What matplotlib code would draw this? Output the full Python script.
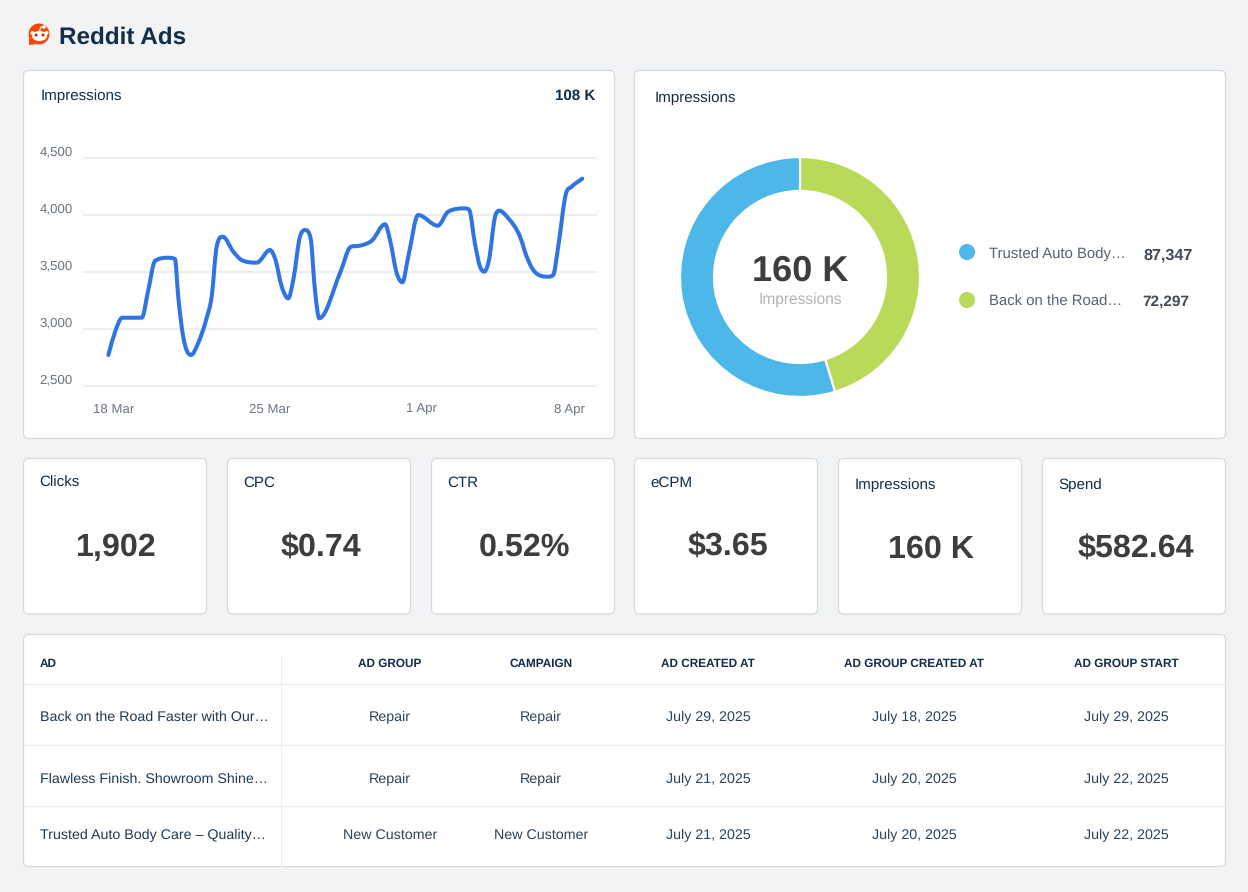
#Reddit Ads dashboard: cards, impressions line, donut, KPI row and ad table.

import matplotlib
matplotlib.use("Agg")
import matplotlib.pyplot as plt
import numpy as np
from matplotlib.patches import Circle, Ellipse, FancyBboxPatch, PathPatch, Polygon
from matplotlib.path import Path
from matplotlib.transforms import ScaledTranslation

plt.rcParams["font.family"] = ["Liberation Sans", "DejaVu Sans"]
plt.rcParams["text.hinting"] = "no_hinting"

# line chart, x is days since 18 Mar
line_days = [-0.26, 0.05, 0.38, 1.28, 1.58, 1.89, 2.50, 2.81, 2.96, 3.19, 3.55, 3.88, 4.27, 4.50,
             4.73, 5.01, 5.50, 5.88, 6.58, 7.19, 7.42, 7.73, 8.03, 8.26, 8.57, 8.80, 9.06, 9.26,
             9.46, 10.41, 10.92, 11.34, 11.88, 12.49, 12.72, 13.03, 13.29, 13.56, 14.02, 14.92,
             15.40, 16.18, 16.37, 16.63, 16.87, 17.06, 17.28, 17.56, 17.76, 18.17, 18.71, 19.02,
             19.32, 20.01, 20.24, 20.47, 20.83, 21.09, 21.58]
line_values = [2772, 2976, 3099, 3099, 3342, 3597, 3625, 3614, 3283, 2932, 2772, 2877, 3097, 3283,
               3722, 3810, 3678, 3605, 3582, 3693, 3620, 3371, 3269, 3430, 3810, 3868, 3796, 3342,
               3094, 3488, 3722, 3731, 3775, 3919, 3781, 3488, 3410, 3634, 4000, 3906,
               4029, 4058, 4044, 3752, 3546, 3503, 3605, 3985, 4038, 3971, 3810, 3634,
               3518, 3459, 3474, 3722, 4190, 4248, 4319]
y_ticks = [2500, 3000, 3500, 4000, 4500]
x_tick_days = [0, 7.19, 14.19, 20.97]
x_tick_labels = ["18 Mar", "25 Mar", "1 Apr", "8 Apr"]

# donut
donut_names = ["Back on the Road…", "Trusted Auto Body…"]
donut_values = [72297, 87347]
donut_colors = ["#b8da58", "#4cb8ea"]

# KPI cards
kpi_names = ["Clicks", "CPC", "CTR", "eCPM", "Impressions", "Spend"]
kpi_values = ["1,902", "$0.74", "0.52%", "$3.65", "160 K", "$582.64"]

# table
table_headers = ["AD", "AD GROUP", "CAMPAIGN", "AD CREATED AT", "AD GROUP CREATED AT", "AD GROUP START"]
col_ad = ["Back on the Road Faster with Our…", "Flawless Finish. Showroom Shine…", "Trusted Auto Body Care – Quality…"]
col_group = ["Repair", "Repair", "New Customer"]
col_campaign = ["Repair", "Repair", "New Customer"]
col_created = ["July 29, 2025", "July 21, 2025", "July 21, 2025"]
col_group_created = ["July 18, 2025", "July 20, 2025", "July 20, 2025"]
col_group_start = ["July 29, 2025", "July 22, 2025", "July 22, 2025"]

NAVY = "#122e4a"
GREY = "#3d3d3d"
W, H = 1248, 892

fig = plt.figure(figsize=(W / 100, H / 100), dpi=100, facecolor="#f1f3f5")


def axes_px(left, top, right, bottom):
    return fig.add_axes([left / W, 1 - bottom / H, (right - left) / W, (bottom - top) / H])


def smooth_path(x, y):
    # cubic through the points, flat at turning points so it does not overshoot
    x = np.array(x, dtype=float)
    y = np.array(y, dtype=float)
    h = np.diff(x)
    s = np.diff(y) / h
    m = np.zeros(len(x))
    for i in range(1, len(x) - 1):
        if s[i - 1] * s[i] > 0:
            mid = (h[i] * s[i - 1] + h[i - 1] * s[i]) / (h[i - 1] + h[i])
            limit = 3 * min(abs(s[i - 1]), abs(s[i]))
            m[i] = np.sign(mid) * min(abs(mid), limit)
    m[0] = s[0]
    m[-1] = s[-1]
    verts = [(x[0], y[0])]
    codes = [Path.MOVETO]
    for i in range(len(h)):
        verts.append((x[i] + h[i] / 3, y[i] + m[i] * h[i] / 3))
        verts.append((x[i + 1] - h[i] / 3, y[i + 1] - m[i + 1] * h[i] / 3))
        verts.append((x[i + 1], y[i + 1]))
        codes += [Path.CURVE4] * 3
    return Path(verts, codes)


# page layer in pixels
bg = fig.add_axes([0, 0, 1, 1])
bg.set_xlim(0, W)
bg.set_ylim(H, 0)
bg.axis("off")


def card(x0, y0, x1, y1):
    bg.add_patch(FancyBboxPatch((x0, y0), x1 - x0, y1 - y0, boxstyle="round,pad=0,rounding_size=5",
                                fc="white", ec="#d6d9dd", lw=0.9))


card(23.5, 70.5, 614.5, 438.5)
card(634.5, 70.5, 1225.5, 438.5)
kpi_left = [23.5, 227.5, 431.5, 634.5, 838.5, 1042.5]
kpi_label_y = [482, 482, 482, 482, 484, 484]
kpi_value_y = [546, 546, 545, 545, 547, 547]
for i in range(6):
    card(kpi_left[i], 458.5, kpi_left[i] + 183, 614)
    bg.text(kpi_left[i] + 16, kpi_label_y[i] + 1, kpi_names[i], fontsize=10.9, color=NAVY, va="center")
    bg.text(kpi_left[i] + 93, kpi_value_y[i] + 2, kpi_values[i], fontsize=23.2, color=GREY, weight="bold",
            ha="center", va="center")
card(23.5, 634.5, 1225.5, 866.5)

# logo
bg.add_patch(Circle((39, 34), 10.5, fc="#ff4500", ec="none"))
bg.add_patch(Polygon([(29, 38), (29, 45), (36, 44)], fc="#ff4500", ec="none"))
bg.add_patch(Ellipse((39.5, 36), 15, 10, fc="white", ec="none"))
bg.add_patch(Circle((32.5, 33), 2, fc="white", ec="none"))
bg.add_patch(Circle((46.5, 33), 2, fc="white", ec="none"))
bg.add_patch(Circle((36, 35), 1.5, fc="#c92a00", ec="none"))
bg.add_patch(Circle((43, 35), 1.5, fc="#c92a00", ec="none"))
bg.add_patch(Circle((44, 27), 1.8, fc="white", ec="none"))
bg.plot([39.5, 41, 44], [31, 27, 27], color="white", lw=1)
bg.text(59, 38, "Reddit Ads", fontsize=17.5, weight="bold", color=NAVY, va="center")

bg.text(40.5, 96, "Impressions", fontsize=10.9, color=NAVY, va="center")
bg.text(595, 96, "108 K", fontsize=10.9, weight="bold", color=NAVY, va="center", ha="right")
bg.text(655, 98, "Impressions", fontsize=10.9, color=NAVY, va="center")

# line chart
ax = axes_px(84, 158, 596, 386)
ax.patch.set_alpha(0)
ax.set_xlim((84 - 114) / 21.7, (596 - 114) / 21.7)
ax.set_ylim(2500, 4500)
ax.set_yticks(y_ticks)
ax.set_yticklabels([f"{v:,}" for v in y_ticks])
ax.set_xticks(x_tick_days)
ax.set_xticklabels(x_tick_labels)
ax.grid(axis="y", color="#eceef2", lw=1.6, zorder=0, clip_on=False)
ax.set_axisbelow(True)
for spine in ax.spines.values():
    spine.set_visible(False)
ax.tick_params(length=0, labelsize=9.5, labelcolor="#6b7480")
ax.tick_params(axis="x", pad=12.5)
ax.tick_params(axis="y", pad=8)
up = ScaledTranslation(0, 7 / 100, fig.dpi_scale_trans)
for lab in ax.get_yticklabels():
    lab.set_transform(lab.get_transform() + up)
ax.add_patch(PathPatch(smooth_path(line_days, line_values), fc="none", ec="#2f74e2", lw=2.9,
                       capstyle="round", joinstyle="round", clip_on=False, zorder=3))

# donut
dax = axes_px(800 - 120, 277 - 120, 800 + 120, 277 + 120)
dax.pie(donut_values, colors=donut_colors, startangle=90, counterclock=False, radius=1,
        wedgeprops={"width": 34 / 120, "edgecolor": "white", "linewidth": 1.6})
dax.set_xlim(-1, 1)
dax.set_ylim(-1, 1)
dax.text(0, -0.19, "Impressions", fontsize=11.2, color="#b3b3b3", ha="center", va="center")
dax.text(0, 0.045, "160 K", fontsize=26, weight="bold", color=GREY, ha="center", va="center")

# legend
legend_y = [252, 300]
legend_value_x = [1193, 1189]
legend_value_size = [11.6, 11.1]
for i, j in enumerate([1, 0]):
    bg.add_patch(Circle((967, legend_y[i]), 8, fc=donut_colors[j], ec="none"))
    bg.text(989, legend_y[i] + 2, donut_names[j], fontsize=10.7, color="#58626e", va="center")
    bg.text(legend_value_x[i], legend_y[i] + 3 - i, f"{donut_values[j]:,}", fontsize=legend_value_size[i],
            weight="bold", color="#454b53", va="center", ha="right")

# table
col_x = [40, 390, 541, 708, 914, 1126]
for i in range(6):
    ha = "left" if i == 0 else "center"
    bg.text(col_x[i], 664, table_headers[i], fontsize=8.5, weight="bold", color=NAVY, ha=ha, va="center")
for y in [683.5, 744.5, 805.5]:
    bg.plot([24, 1225], [y, y], color="#eceef1", lw=0.9)
bg.plot([280.5, 280.5], [655, 866], color="#eceef1", lw=0.9)
row_y = [717, 779, 835]
columns = [col_ad, col_group, col_campaign, col_created, col_group_created, col_group_start]
for c in range(6):
    ha = "left" if c == 0 else "center"
    for r in range(3):
        bg.text(col_x[c], row_y[r], columns[c][r], fontsize=10.3, color="#1f3a56" if c == 0 else "#2f4358",
                ha=ha, va="center")

fig.savefig("out.png", dpi=100, facecolor=fig.get_facecolor())
